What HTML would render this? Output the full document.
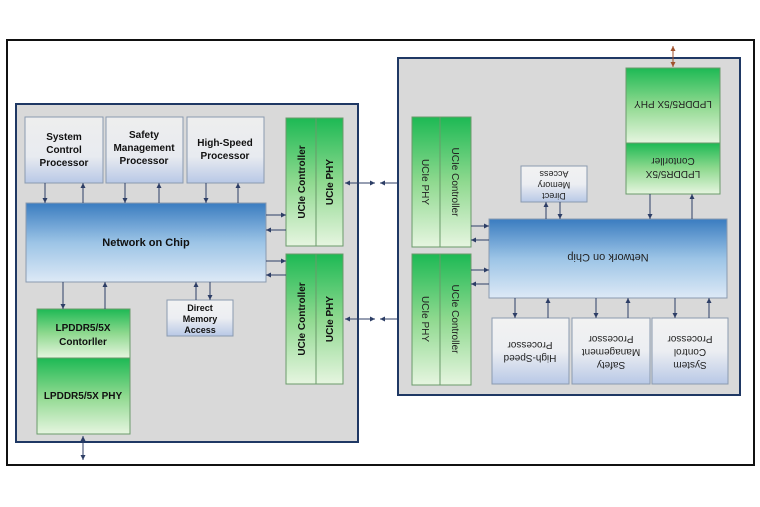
<!DOCTYPE html>
<html><head><meta charset="utf-8"><style>
html,body{margin:0;padding:0;background:#fff;}
svg{display:block;}
text{font-family:"Liberation Sans",sans-serif;font-weight:bold;fill:#111;}
.r text{font-weight:normal;fill:#222;}
</style></head><body>
<svg width="760" height="507" viewBox="0 0 760 507" xmlns="http://www.w3.org/2000/svg">
<defs>
<linearGradient id="g" x1="0" y1="0" x2="0" y2="1"><stop offset="0" stop-color="#1db954"/><stop offset="0.5" stop-color="#8fd98f"/><stop offset="1" stop-color="#e6f5e0"/></linearGradient>
<linearGradient id="b" x1="0" y1="0" x2="0" y2="1"><stop offset="0" stop-color="#3a7cc0"/><stop offset="0.5" stop-color="#9cc4e6"/><stop offset="1" stop-color="#dde9f6"/></linearGradient>
<linearGradient id="p" x1="0" y1="0" x2="0" y2="1"><stop offset="0" stop-color="#eeeeee"/><stop offset="0.6" stop-color="#e8ebf0"/><stop offset="1" stop-color="#b8c8e6"/></linearGradient>
<linearGradient id="pr" x1="0" y1="0" x2="0" y2="1"><stop offset="0" stop-color="#f2f2f2"/><stop offset="0.5" stop-color="#eceef2"/><stop offset="1" stop-color="#b8c8e6"/></linearGradient>
<marker id="a" viewBox="0 0 6 6" refX="6" refY="3" markerWidth="5" markerHeight="5" orient="auto-start-reverse"><path d="M0,0L6,3L0,6z" fill="#2d3e66"/></marker>
<marker id="ab" viewBox="0 0 6 6" refX="6" refY="3" markerWidth="5" markerHeight="5" orient="auto-start-reverse"><path d="M0,0L6,3L0,6z" fill="#a0522d"/></marker>
</defs>
<rect x="7" y="40" width="747" height="425" fill="#fff" stroke="#111" stroke-width="2"/>
<!-- left chip -->
<rect x="16" y="104" width="342" height="338" fill="#d9d9d9" stroke="#1f3864" stroke-width="2"/>
<g stroke="#8a9ab0" stroke-width="1">
<rect x="25" y="117" width="78" height="66" fill="url(#p)"/>
<rect x="106" y="117" width="77" height="66" fill="url(#p)"/>
<rect x="187" y="117" width="77" height="66" fill="url(#p)"/>
<rect x="26" y="203" width="240" height="79" fill="url(#b)"/>
<rect x="167" y="300" width="66" height="36" fill="url(#pr)"/>
</g>
<g stroke="#6a9a6a" stroke-width="1" fill="url(#g)">
<rect x="286" y="118" width="30" height="128"/><rect x="316" y="118" width="27" height="128"/>
<rect x="286" y="254" width="30" height="130"/><rect x="316" y="254" width="27" height="130"/>
<rect x="37" y="309" width="93" height="49"/><rect x="37" y="358" width="93" height="76"/>
</g>
<g font-size="10" text-anchor="middle">
<text x="64" y="140">System</text><text x="64" y="153">Control</text><text x="64" y="166">Processor</text>
<text x="144" y="138">Safety</text><text x="144" y="151">Management</text><text x="144" y="164">Processor</text>
<text x="225" y="146">High-Speed</text><text x="225" y="159">Processor</text>
<text x="146" y="246" font-size="11">Network on Chip</text>
<text x="200" y="311" font-size="9">Direct</text><text x="200" y="322" font-size="9">Memory</text><text x="200" y="333" font-size="9">Access</text>
<text x="83" y="331">LPDDR5/5X</text><text x="83" y="345">Contorller</text>
<text x="83" y="399">LPDDR5/5X PHY</text>
<text transform="translate(305,182) rotate(-90)">UCIe Controller</text>
<text transform="translate(333,182) rotate(-90)">UCIe PHY</text>
<text transform="translate(305,319) rotate(-90)">UCIe Controller</text>
<text transform="translate(333,319) rotate(-90)">UCIe PHY</text>
</g>
<g stroke="#2d3e66" stroke-width="1" fill="none">
<line x1="45" y1="183" x2="45" y2="203" marker-end="url(#a)"/><line x1="83" y1="203" x2="83" y2="183" marker-end="url(#a)"/>
<line x1="125" y1="183" x2="125" y2="203" marker-end="url(#a)"/><line x1="159" y1="203" x2="159" y2="183" marker-end="url(#a)"/>
<line x1="206" y1="183" x2="206" y2="203" marker-end="url(#a)"/><line x1="238" y1="203" x2="238" y2="183" marker-end="url(#a)"/>
<line x1="266" y1="215" x2="286" y2="215" marker-end="url(#a)"/><line x1="286" y1="230" x2="266" y2="230" marker-end="url(#a)"/>
<line x1="266" y1="261" x2="286" y2="261" marker-end="url(#a)"/><line x1="286" y1="275" x2="266" y2="275" marker-end="url(#a)"/>
<line x1="63" y1="282" x2="63" y2="309" marker-end="url(#a)"/><line x1="105" y1="309" x2="105" y2="282" marker-end="url(#a)"/>
<line x1="196" y1="300" x2="196" y2="282" marker-end="url(#a)"/><line x1="210" y1="282" x2="210" y2="300" marker-end="url(#a)"/>
<line x1="83" y1="436" x2="83" y2="460" marker-start="url(#a)" marker-end="url(#a)"/>
<line x1="345" y1="183" x2="375" y2="183" marker-start="url(#a)" marker-end="url(#a)"/>
<line x1="380" y1="183" x2="411" y2="183" marker-start="url(#a)" marker-end="url(#a)"/>
<line x1="345" y1="319" x2="375" y2="319" marker-start="url(#a)" marker-end="url(#a)"/>
<line x1="380" y1="319" x2="411" y2="319" marker-start="url(#a)" marker-end="url(#a)"/>
</g>
<!-- right chip -->
<rect x="398" y="58" width="342" height="337" fill="#d9d9d9" stroke="#1f3864" stroke-width="2"/>
<g stroke="#8a9ab0" stroke-width="1">
<rect x="492" y="318" width="77" height="66" fill="url(#pr)"/>
<rect x="572" y="318" width="78" height="66" fill="url(#pr)"/>
<rect x="652" y="318" width="76" height="66" fill="url(#pr)"/>
<rect x="489" y="219" width="238" height="79" fill="url(#b)"/>
<rect x="521" y="166" width="66" height="36" fill="url(#pr)"/>
</g>
<g stroke="#6a9a6a" stroke-width="1" fill="url(#g)">
<rect x="412" y="117" width="28" height="130"/><rect x="440" y="117" width="31" height="130"/>
<rect x="412" y="254" width="28" height="131"/><rect x="440" y="254" width="31" height="131"/>
<rect x="626" y="68" width="94" height="75"/><rect x="626" y="143" width="94" height="51"/>
</g>
<g class="r" font-size="10" text-anchor="middle">
<g transform="rotate(180,530,351)"><text x="530" y="347">High-Speed</text><text x="530" y="360">Processor</text></g>
<g transform="rotate(180,611,351)"><text x="611" y="340">Safety</text><text x="611" y="353">Management</text><text x="611" y="366">Processor</text></g>
<g transform="rotate(180,690,351)"><text x="690" y="340">System</text><text x="690" y="353">Control</text><text x="690" y="366">Processor</text></g>
<g transform="rotate(180,608,258)"><text x="608" y="262" font-size="11">Network on Chip</text></g>
<g transform="rotate(180,554,184)" font-size="9"><text x="554" y="175">Direct</text><text x="554" y="186">Memory</text><text x="554" y="197">Access</text></g>
<g transform="rotate(180,673,105)"><text x="673" y="109">LPDDR5/5X PHY</text></g>
<g transform="rotate(180,673,168)"><text x="673" y="165">LPDDR5/5X</text><text x="673" y="178">Contorller</text></g>
<text transform="translate(422,182) rotate(90)">UCIe PHY</text>
<text transform="translate(452,182) rotate(90)">UCIe Controller</text>
<text transform="translate(422,319) rotate(90)">UCIe PHY</text>
<text transform="translate(452,319) rotate(90)">UCIe Controller</text>
</g>
<g stroke="#2d3e66" stroke-width="1" fill="none">
<line x1="515" y1="298" x2="515" y2="318" marker-end="url(#a)"/><line x1="548" y1="318" x2="548" y2="298" marker-end="url(#a)"/>
<line x1="596" y1="298" x2="596" y2="318" marker-end="url(#a)"/><line x1="628" y1="318" x2="628" y2="298" marker-end="url(#a)"/>
<line x1="675" y1="298" x2="675" y2="318" marker-end="url(#a)"/><line x1="709" y1="318" x2="709" y2="298" marker-end="url(#a)"/>
<line x1="471" y1="226" x2="489" y2="226" marker-end="url(#a)"/><line x1="489" y1="240" x2="471" y2="240" marker-end="url(#a)"/>
<line x1="471" y1="270" x2="489" y2="270" marker-end="url(#a)"/><line x1="489" y1="284" x2="471" y2="284" marker-end="url(#a)"/>
<line x1="546" y1="219" x2="546" y2="202" marker-end="url(#a)"/><line x1="560" y1="202" x2="560" y2="219" marker-end="url(#a)"/>
<line x1="650" y1="194" x2="650" y2="219" marker-end="url(#a)"/><line x1="692" y1="219" x2="692" y2="194" marker-end="url(#a)"/>
</g>
<line x1="673" y1="46" x2="673" y2="67" stroke="#a0522d" stroke-width="1" marker-start="url(#ab)" marker-end="url(#ab)"/>
</svg>
</body></html>
